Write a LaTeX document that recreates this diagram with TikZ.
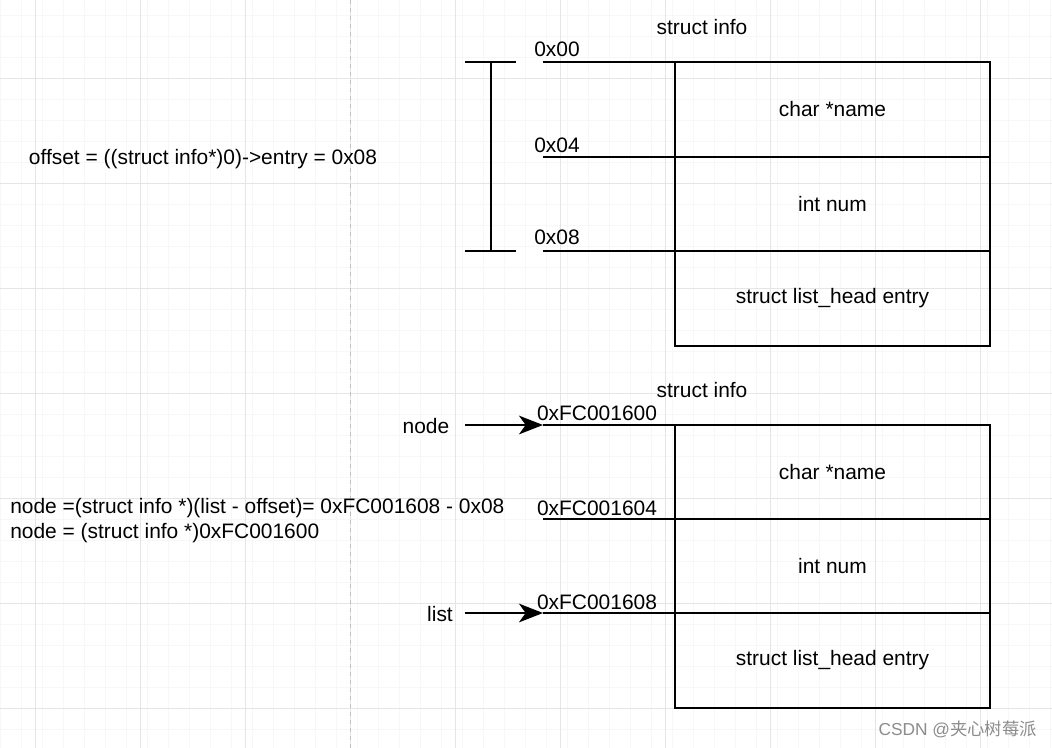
\documentclass[tikz,border=0pt]{standalone}
\usepackage{fontspec}
\setmainfont{Liberation Sans}
\newfontfamily\cjk{Noto Sans CJK SC}
\usetikzlibrary{arrows.meta}
\tikzset{
  lbl/.style={font=\fontsize{15.7}{18}\selectfont, inner sep=0pt},
  field/.style={draw, line width=1.5pt, outer sep=0pt},
  wire/.style={line width=1.5pt},
  ptr/.style={line width=1.5pt, -{Stealth[length=18pt,width=14pt,inset=5pt]}}
}
\begin{document}
\begin{tikzpicture}[x=0.75pt,y=-0.75pt]
\useasboundingbox (0,0) rectangle (1052,748);
% grid
\foreach \i in {0,21,...,1052} \draw[black!3] (\i,0) -- (\i,748);
\foreach \j in {15,36,...,748} \draw[black!3] (0,\j) -- (1052,\j);
\foreach \i in {35,140,...,1052} \draw[black!10] (\i,0) -- (\i,748);
\foreach \j in {78,183,...,748} \draw[black!10] (0,\j) -- (1052,\j);
\draw[black!25, dashed] (350,0) -- (350,748);

% upper struct
\node[lbl] (t1) at (702,27) {struct info};
\node[field, minimum width=315*0.75pt, minimum height=95*0.75pt, lbl] (a1) at (832.5,109.5) {char *name};
\node[field, minimum width=315*0.75pt, minimum height=94*0.75pt, lbl] (a2) at (832.5,204) {int num};
\node[field, minimum width=315*0.75pt, minimum height=95*0.75pt, lbl] (a3) at (832.5,298.5) {struct list\_head entry};
\coordinate (p1) at (543,62);
\coordinate (p2) at (543,157);
\coordinate (p3) at (543,251);
\draw[wire] (p1) -- (a1.north west);
\draw[wire] (p2) -- (a2.north west);
\draw[wire] (p3) -- (a3.north west);
\node[lbl] (o1) at (557,49) {0x00};
\node[lbl] (o2) at (557,145) {0x04};
\node[lbl] (o3) at (557,237) {0x08};
% bracket
\coordinate (b1) at (491,62);
\coordinate (b2) at (491,251);
\draw[wire] (b1) -- (b2);
\draw[wire] (465,62) -- (516,62);
\draw[wire] (465,251) -- (516,251);
\node[lbl] (off) at (203,159) {offset = ((struct info*)0)->entry = 0x08};

% lower struct
\node[lbl] (t2) at (702,390) {struct info};
\node[field, minimum width=315*0.75pt, minimum height=94*0.75pt, lbl] (c1) at (832.5,472) {char *name};
\node[field, minimum width=315*0.75pt, minimum height=94*0.75pt, lbl] (c2) at (832.5,566) {int num};
\node[field, minimum width=315*0.75pt, minimum height=95*0.75pt, lbl] (c3) at (832.5,660.5) {struct list\_head entry};
\coordinate (q1) at (543,425);
\coordinate (q2) at (543,519);
\coordinate (q3) at (543,613);
\draw[wire] (q1) -- (c1.north west);
\draw[wire] (q2) -- (c2.north west);
\draw[wire] (q3) -- (c3.north west);
\node[lbl] (d1) at (597,413) {0xFC001600};
\node[lbl] (d2) at (597,508) {0xFC001604};
\node[lbl] (d3) at (597,602) {0xFC001608};

\node[lbl] (nd) at (426,426) {node};
\node[lbl] (ls) at (440,614) {list};
\coordinate (n0) at (465,425);
\coordinate (l0) at (465,613);
\draw[ptr] (n0) -- (q1);
\draw[ptr] (l0) -- (q3);
\node[lbl, anchor=west] (f1) at (10,508) {node =(struct info *)(list - offset)= 0xFC001608 - 0x08};
\node[lbl, anchor=west] (f2) at (10,533) {node = (struct info *)0xFC001600};

\node[text=black!45, anchor=east, inner sep=0pt, font=\fontsize{13}{15}\selectfont] (wm) at (1037,729) {CSDN @{\cjk 夹心树莓派}};
\end{tikzpicture}
\end{document}
